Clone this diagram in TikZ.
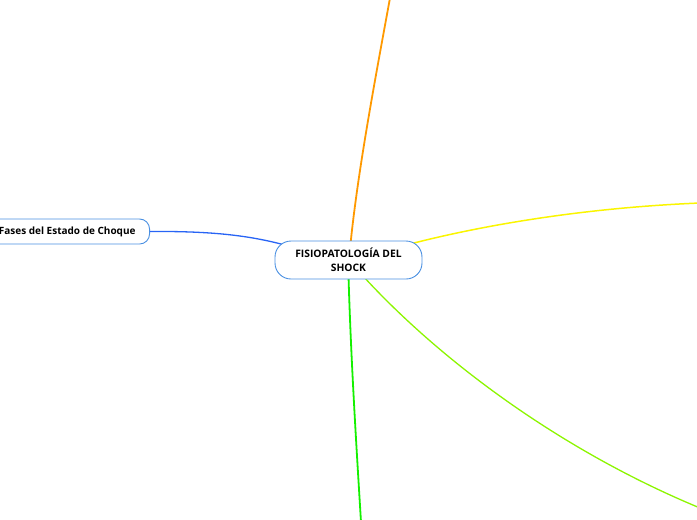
\documentclass[tikz,border=0pt]{standalone}
\usepackage{fontspec}
\setmainfont{Open Sans}
\definecolor{nodeblue}{RGB}{74,144,226}
\definecolor{cblue}{RGB}{40,100,245}
\definecolor{corange}{RGB}{255,153,0}
\definecolor{cyellow}{RGB}{250,245,0}
\definecolor{cgreen}{RGB}{20,240,0}
\definecolor{clgreen}{RGB}{140,245,0}
\tikzset{
  topic/.style={draw=nodeblue, line width=0.9pt, fill=white, rounded corners=16pt,
    font=\fontsize{10.3}{14}\selectfont\bfseries, align=center, inner sep=0pt},
  sub/.style={draw=nodeblue, line width=0.9pt, fill=white, rounded corners=10pt,
    font=\fontsize{10}{12}\selectfont\bfseries, inner ysep=0pt, inner xsep=14pt},
}
\begin{document}
\begin{tikzpicture}[x=1pt,y=-1pt]
\useasboundingbox (0,0) rectangle (697,520);
\clip (0,0) rectangle (697,520);
% connectors (under nodes)
\coordinate (oe) at (390,-2);
\coordinate (ye) at (700,203);
\coordinate (ge) at (361,522);
\coordinate (le) at (700,508);
\draw[corange, line width=1.8pt] (350.5,244) .. controls (358,170) and (375,80) .. (oe);
\draw[cyellow, line width=1.5pt] (410,244) .. controls (480,226) and (580,208) .. (ye);
\draw[cgreen, line width=1.8pt] (348.5,276) .. controls (351,360) and (356,440) .. (ge);
\draw[clgreen, line width=1.3pt] (363,276) .. controls (440,360) and (560,450) .. (le);
\node[sub, minimum height=25pt, anchor=east] (fases) at (150,231.5) {Fases del Estado de Choque};
\draw[cblue, line width=1.3pt] (fases.east) .. controls (215,231) and (250,236) .. (283,244.5);
\node[topic, minimum width=147pt, minimum height=38pt] (root) at (348.5,260) {FISIOPATOLOGÍA DEL\\SHOCK};
\end{tikzpicture}
\end{document}
